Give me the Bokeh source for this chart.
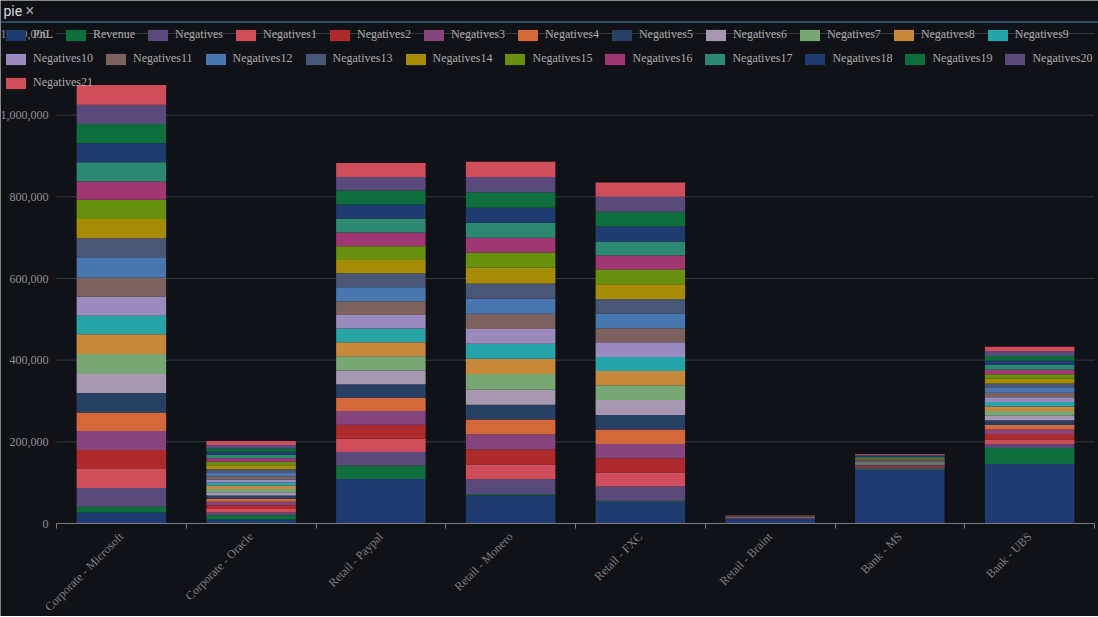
from bokeh.plotting import figure
from bokeh.models import (ColumnDataSource, Legend, LegendItem, FixedTicker,
                          Label, LabelSet, BoxAnnotation, Range1d)
from bokeh.core.properties import value
from bokeh.embed import file_html
from bokeh.resources import INLINE
import math

categories = ["Corporate - Microsoft", "Corporate - Oracle", "Retail - Paypal",
              "Retail - Monero", "Retail - FXC", "Retail - Braint", "Bank - MS", "Bank - UBS"]

series = ["PnL", "Revenue", "Negatives", "Negatives1", "Negatives2", "Negatives3",
          "Negatives4", "Negatives5", "Negatives6", "Negatives7", "Negatives8",
          "Negatives9", "Negatives10", "Negatives11", "Negatives12", "Negatives13",
          "Negatives14", "Negatives15", "Negatives16", "Negatives17", "Negatives18",
          "Negatives19", "Negatives20", "Negatives21"]

# values per category, in series order (bottom to top)
microsoft = [27000, 14000, 45800, 46500, 46500, 46500, 45800, 47500, 46500, 48900, 48200, 45800,
             47200, 45800, 48200, 48200, 47200, 47200, 44800, 47200, 46500, 47200, 47200, 48200]
oracle = [9500, 10500, 7000, 8500, 9500, 8500, 6500, 8500, 8000, 8000, 8000, 8000,
          7000, 8000, 8000, 9500, 9500, 8500, 9000, 8000, 8000, 8000, 8000, 10000]
paypal = [109000, 32500, 33500, 32500, 34300, 33500, 32500, 33500, 33500, 35000, 34300, 33500,
          33300, 33500, 34300, 34300, 32500, 33500, 33500, 34300, 34300, 34300, 33300, 34300]
monero = [68500, 3400, 36700, 35700, 36700, 37700, 35700, 36700, 36700, 38400, 37400, 36700,
          36000, 37400, 36700, 37400, 38400, 37400, 36000, 36700, 36700, 38400, 37400, 37400]
fxc = [53100, 2400, 35000, 34300, 35200, 35000, 35200, 35700, 36700, 36000, 35000, 34300,
       36000, 34300, 36000, 35000, 36700, 36000, 34300, 34300, 36700, 36000, 36700, 35000]
braint = [11500, 400, 380, 360, 390, 350, 370, 380, 360, 370, 390, 350,
          370, 380, 360, 370, 380, 350, 370, 360, 380, 370, 360, 380]
bank_ms = [131000, 3000, 1500, 1700, 1800, 1600, 1500, 1600, 1700, 1600, 1500, 1600,
           1700, 1600, 1500, 1600, 1600, 1700, 1500, 1600, 1600, 1700, 1500, 1600]
bank_ubs = [146000, 39000, 9000, 12000, 13000, 11000, 11500, 11300, 11000, 11500, 11300, 11200,
            11500, 11000, 11300, 11500, 11200, 11000, 11500, 11300, 11000, 11200, 11500, 11000]

rows = [microsoft, oracle, paypal, monero, fxc, braint, bank_ms, bank_ubs]

colors = ["#1F3B70", "#0F6E3D", "#5A4A7C", "#CE4F5B", "#AF2A2D", "#85447C", "#D3693B", "#283F64",
          "#A897B1", "#79A675", "#C8883C", "#27A4A7", "#9A8ABE", "#7B625E", "#4877B0", "#4A5676",
          "#A68B06", "#68900F", "#9F3773", "#2C8871", "#1F3B70", "#0F6E3D", "#5A4A7C", "#CE4F5B"]

y_ticks = [0, 200000, 400000, 600000, 800000, 1000000, 1200000]

BG = "#111217"
n = len(categories)
centers = [i + 0.5 for i in range(n)]
bounds = [i for i in range(n + 1)]

data = {"x": centers}
for j, s in enumerate(series):
    data[s] = [r[j] for r in rows]
source = ColumnDataSource(data)

# layout geometry (screen pixels)
W = 1098
FH = 616                    # the frame covers the whole page
PLOT_L, PLOT_R = 56, 1094   # category area, horizontally
PLOT_T, PLOT_B = 33, 523    # top tick (1,200,000) and zero line, vertically
band = (PLOT_R - PLOT_L) / n
ppu = (PLOT_B - PLOT_T) / y_ticks[-1]   # pixels per unit

p = figure(frame_width=W, frame_height=FH, min_border_left=0, min_border_right=0,
           min_border_top=0, min_border_bottom=0,
           x_range=Range1d(-PLOT_L / band, n + (W - PLOT_R) / band),
           y_range=Range1d(-(FH - PLOT_B) / ppu, y_ticks[-1] + PLOT_T / ppu),
           y_axis_location=None,
           output_backend="svg", toolbar_location=None, tools="")
p.background_fill_color = BG
p.border_fill_color = BG
p.outline_line_color = None
p.grid.visible = False

# horizontal grid lines over the category area
grid_src = ColumnDataSource(dict(y=y_ticks, x0=[0 for _ in y_ticks], x1=[n for _ in y_ticks],
                                 label=[f"{v:,}" for v in y_ticks]))
p.segment(x0="x0", x1="x1", y0="y", y1="y", source=grid_src, line_color="#36383d", line_width=1)

renderers = p.vbar_stack(series, x="x", width=0.69, source=source,
                         fill_color=colors, line_color=None)

# y tick labels
p.add_layout(LabelSet(x="x0", y="y", text="label", source=grid_src, x_offset=-8,
                      text_align="right", text_baseline="middle",
                      text_font=value("Liberation Serif"), text_font_size=value("12px"),
                      text_color=value("#8e9096")))

# x axis, drawn on the zero line
xa = p.xaxis[0]
xa.fixed_location = 0
xa.bounds = (0, n)
xa.ticker = FixedTicker(ticks=centers, minor_ticks=bounds)
xa.major_label_overrides = {c: lab for c, lab in zip(centers, categories)}
xa.major_label_orientation = math.pi / 4
xa.major_tick_out = 0
xa.major_tick_in = 0
xa.minor_tick_out = 5
xa.minor_tick_in = 0
xa.minor_tick_line_color = "#7a7c82"
xa.axis_line_color = "#7a7c82"
xa.major_label_text_font = "Liberation Serif"
xa.major_label_text_font_size = "12px"
xa.major_label_text_color = "#7e8086"
xa.major_label_standoff = 6

# legends in three rows
def make_legend(names, center_y):
    items = [LegendItem(label=nm, renderers=[renderers[series.index(nm)]]) for nm in names]
    lg = Legend(items=items, orientation="horizontal", location=(3, FH - center_y - 8),
                glyph_width=25, glyph_height=14, label_standoff=5, spacing=10,
                padding=0, margin=0, label_height=14, label_width=10,
                background_fill_alpha=0, border_line_alpha=0,
                label_text_font="Liberation Serif", label_text_font_size="12px",
                label_text_color="#ababab")
    p.add_layout(lg, "center")

make_legend(series[:12], 34)
make_legend(series[12:23], 58)
make_legend(series[23:], 82)

# header tab
p.add_layout(Label(x=3, y=FH - 10, x_units="screen", y_units="screen", text="pie",
                   text_font="Roboto", text_font_size="14px", text_color="#d8d9da",
                   text_baseline="middle", text_align="left"))
p.add_layout(Label(x=25, y=FH - 10, x_units="screen", y_units="screen", text="×",
                   text_font="Roboto", text_font_size="16px", text_color="#9fa1a6",
                   text_baseline="middle", text_align="left"))
p.add_layout(BoxAnnotation(left=0, right=W, bottom=FH - 22, top=FH - 21,
                           left_units="screen", right_units="screen",
                           bottom_units="screen", top_units="screen",
                           fill_color="#3a8cc4", fill_alpha=1, line_alpha=0))

open("out.html", "w").write(file_html(p, INLINE))
